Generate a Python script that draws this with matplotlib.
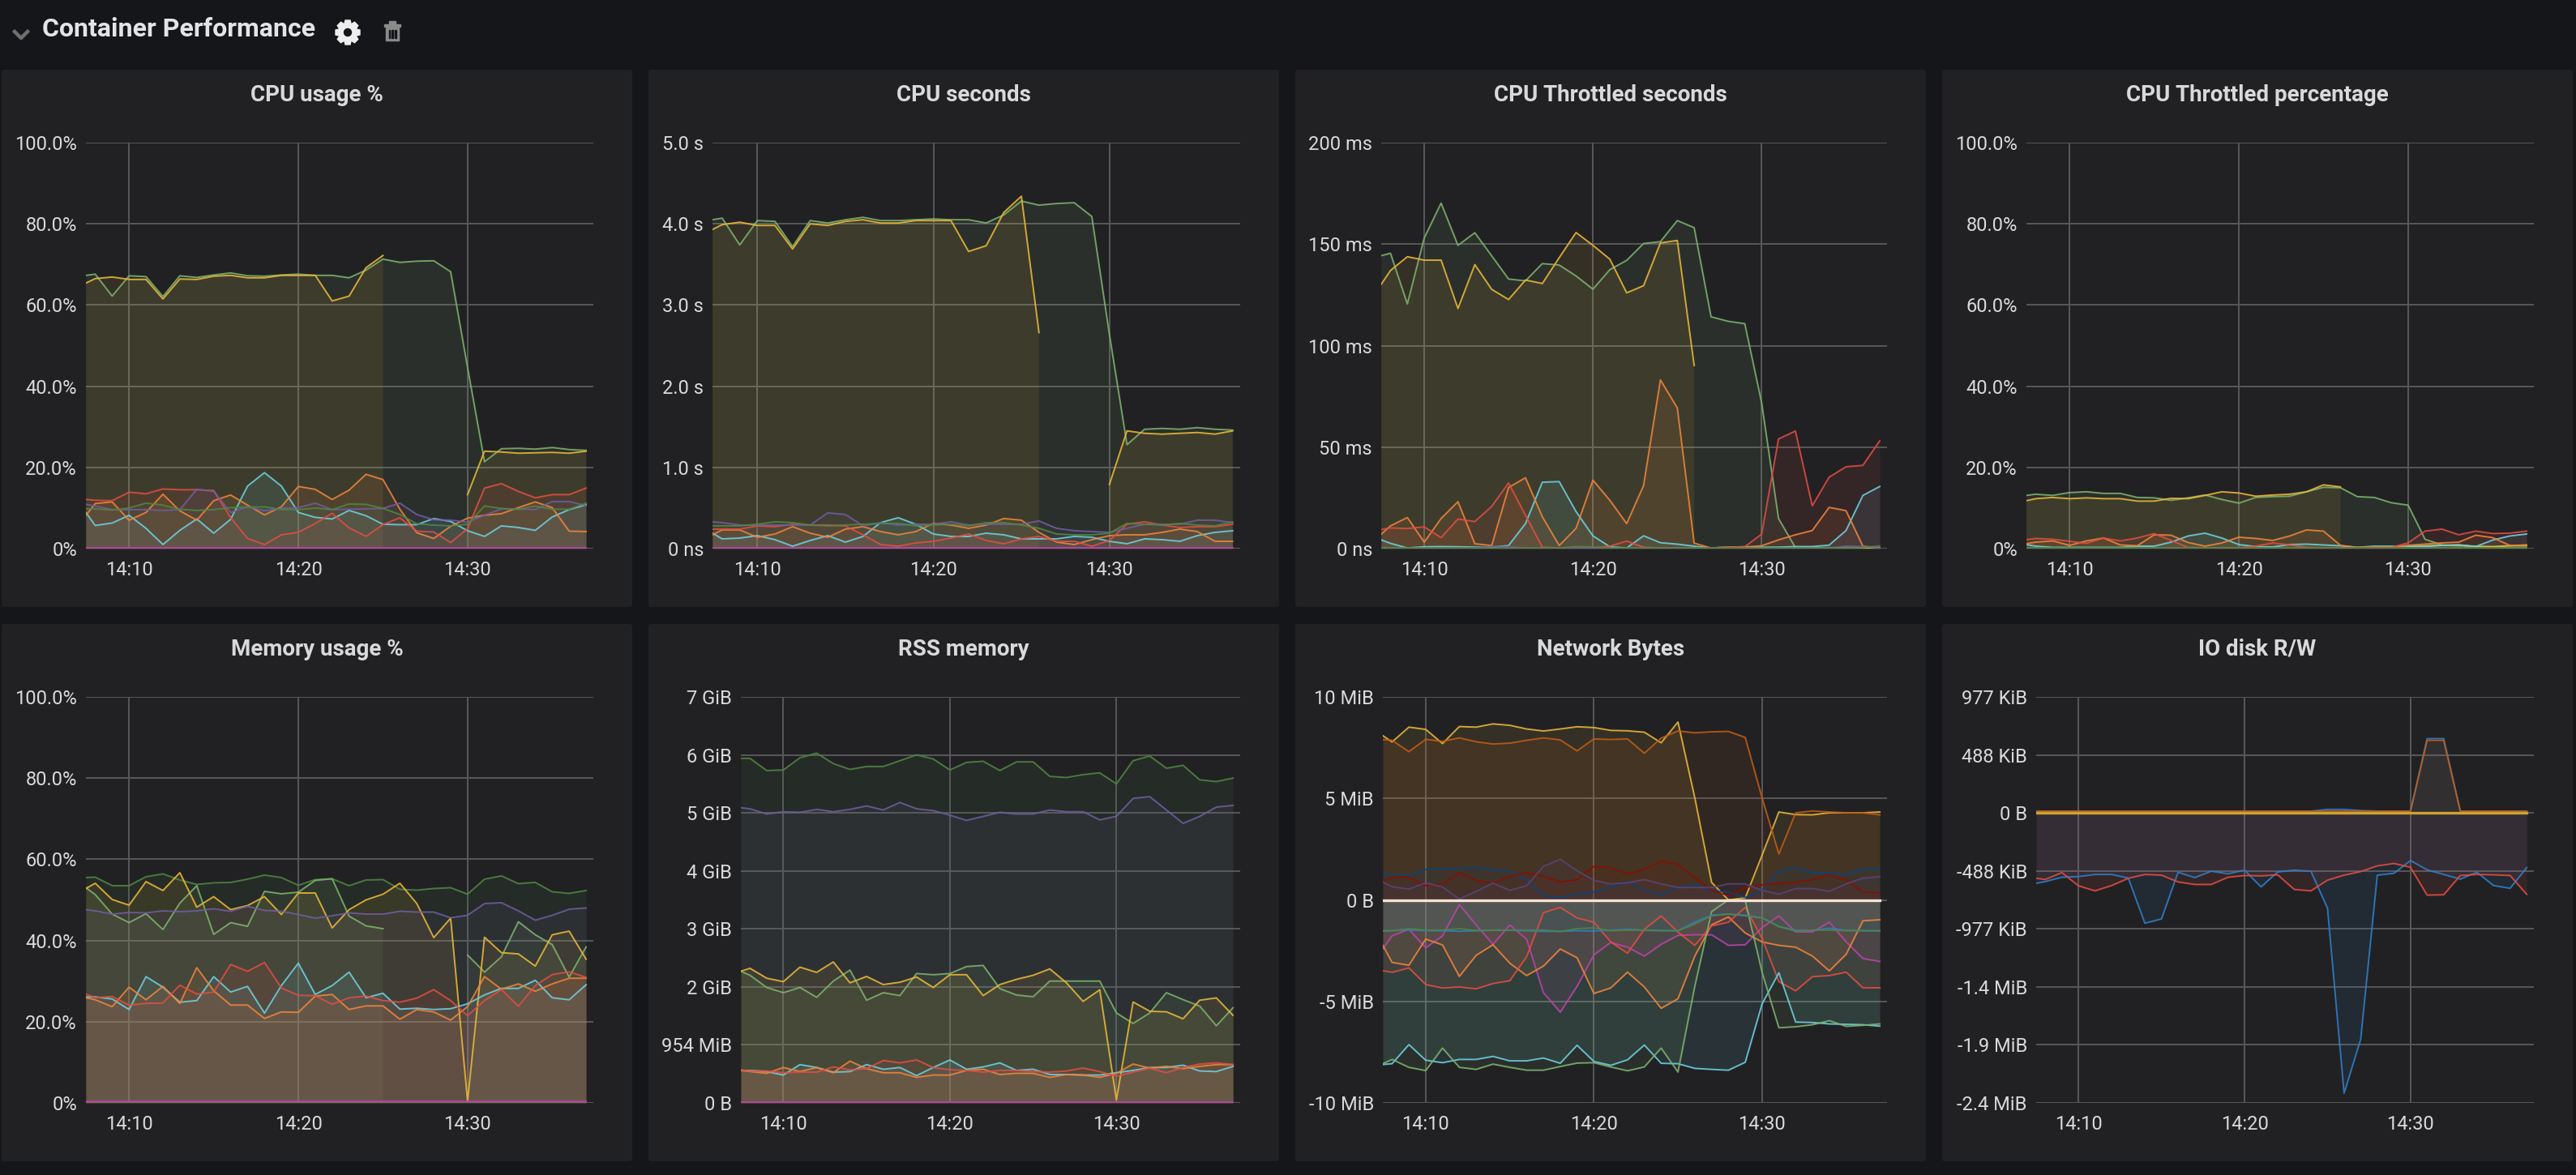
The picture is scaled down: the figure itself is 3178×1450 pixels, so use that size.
#!/usr/bin/env python3
"""
Container performance dashboard, eight dark panels of per-container lines.
"""
import matplotlib
matplotlib.use("Agg")
import matplotlib.pyplot as plt
from matplotlib.patches import Circle, FancyBboxPatch, Polygon, Rectangle
import numpy as np

plt.rcParams["font.family"] = ["Roboto", "DejaVu Sans"]

nan = float("nan")

# minutes after 14:00, the first sample is cut by the left edge of the window
MINUTES = [7.45, 8, 9, 10, 11, 12, 13, 14, 15, 16, 17, 18, 19, 20, 21, 22, 23, 24, 25, 26, 27,
           28, 29, 30, 31, 32, 33, 34, 35, 36, 37]
TIME_TICKS = [10, 20, 30]
TIME_LABELS = ["14:10", "14:20", "14:30"]

GREEN = "#7EB26D"
YELLOW = "#EAB839"
CYAN = "#6ED0E0"
ORANGE = "#EF843C"
RED = "#E24D42"
BLUE = "#2F7FC8"
MAGENTA = "#BA43A9"
VIOLET = "#705DA0"
DARK_GREEN = "#508642"
DARK_YELLOW = "#CCA32F"
DARK_ORANGE = "#C15C17"
DARK_RED = "#890F02"
DARK_BLUE = "#0A437C"
DARK_VIOLET = "#584477"
CREAM = "#F9E2D2"

# CPU usage %
usage_green = [67.3, 67.6, 62.2, 67.2, 67.0, 62.1, 67.2, 66.8, 67.4, 67.9, 67.2, 67.1, 67.4, 67.6, 67.3, 67.3,
               66.7, 68.6, 71.3, 70.5, 70.8, 70.9, 68.2, 44.6, 21.4, 24.6, 24.7, 24.5, 24.9, 24.4, 24.2]
usage_yellow = [65.4, 66.5, 66.9, 66.3, 66.3, 61.5, 66.4, 66.3, 67.1, 67.3, 66.7, 66.7, 67.3, 67.3, 67.3, 61.0,
                62.2, 69.2, 72.2, nan, nan, nan, nan, 13.3, 24.0, 23.8, 23.5, 23.6, 23.7, 23.5, 24.0]
usage_cyan = [8.9, 5.7, 6.3, 8.2, 5.0, 1.0, 4.5, 7.3, 3.8, 7.2, 15.4, 18.7, 15.4, 8.9, 7.7, 7.3,
              9.4, 8.1, 6.0, 5.9, 5.9, 7.4, 6.7, 4.4, 3.0, 5.6, 5.2, 4.5, 7.8, 9.6, 10.8]
usage_orange = [8.2, 11.1, 11.5, 7.0, 8.9, 13.4, 9.3, 7.0, 11.8, 13.2, 10.7, 8.3, 10.3, 15.3, 14.6, 12.1,
                14.4, 18.3, 17.0, 9.7, 3.9, 2.5, 5.5, 7.5, 8.2, 8.6, 10.1, 11.5, 10.1, 4.3, 4.2]
usage_red = [12.1, 11.9, 11.8, 13.9, 13.5, 14.7, 14.5, 14.5, 14.3, 7.6, 2.5, 1.0, 3.4, 4.0, 6.2, 8.7,
             5.1, 3.0, 5.9, 7.6, 4.3, 4.1, 1.5, 4.9, 14.9, 16.0, 14.1, 12.5, 13.3, 13.3, 14.9]
usage_violet = [10.9, 10.5, 9.6, 9.6, 9.6, 9.4, 9.6, 14.6, 14.1, 8.9, 10.3, 9.3, 9.9, 10.1, 11.2, 9.6,
                9.7, 9.8, 9.9, 11.2, 8.4, 7.1, 7.0, 6.5, 8.2, 9.8, 9.7, 9.6, 11.6, 11.6, 10.6]
usage_dark_green = [9.8, 9.8, 9.5, 10.0, 11.2, 10.7, 9.7, 9.4, 9.6, 10.1, 10.2, 10.3, 9.6, 9.6, 10.0, 9.6,
                    11.0, 10.9, 9.9, 8.4, 6.1, 5.8, 5.6, 6.0, 10.5, 9.9, 9.7, 10.5, 9.7, 9.7, 11.2]
usage_magenta = [0.2, 0.2, 0.2, 0.2, 0.2, 0.2, 0.2, 0.2, 0.2, 0.2, 0.2, 0.2, 0.2, 0.2, 0.2, 0.2,
                 0.2, 0.2, 0.2, 0.2, 0.2, 0.2, 0.2, 0.2, 0.2, 0.2, 0.2, 0.2, 0.2, 0.2, 0.2]

# CPU seconds
seconds_green = [4.05, 4.07, 3.74, 4.04, 4.03, 3.72, 4.04, 4.01, 4.05, 4.08, 4.04, 4.04, 4.05, 4.06, 4.05, 4.05,
                 4.01, 4.11, 4.28, 4.23, 4.25, 4.26, 4.09, 2.64, 1.28, 1.47, 1.48, 1.47, 1.49, 1.47, 1.46]
seconds_yellow = [3.93, 3.99, 4.02, 3.98, 3.98, 3.69, 4.00, 3.98, 4.03, 4.05, 4.01, 4.01, 4.04, 4.04, 4.04, 3.66,
                  3.73, 4.14, 4.34, 2.66, nan, nan, nan, 0.79, 1.45, 1.42, 1.41, 1.42, 1.43, 1.41, 1.45]
seconds_cyan = [.19, .12, .13, .16, .11, .03, .10, .16, .08, .15, .32, .38, .30, .18, .15, .15,
                .19, .17, .12, .12, .12, .15, .14, .09, .06, .12, .11, .09, .16, .20, .22]
seconds_orange = [.17, .23, .23, .14, .18, .27, .19, .14, .24, .27, .21, .17, .21, .31, .29, .25,
                  .29, .37, .35, .20, .08, .05, .11, .16, .17, .17, .20, .24, .21, .09, .09]
seconds_red = [.24, .24, .24, .28, .27, .30, .29, .29, .28, .17, .05, .03, .07, .09, .13, .18,
               .10, .06, .12, .15, .09, .09, .03, .10, .30, .33, .29, .26, .27, .27, .30]
seconds_violet = [.33, .32, .29, .29, .29, .29, .29, .44, .42, .28, .32, .29, .30, .30, .33, .29,
                  .30, .30, .30, .34, .25, .22, .21, .20, .25, .30, .30, .30, .35, .35, .32]
seconds_dark_green = [.28, .28, .28, .30, .33, .32, .29, .28, .29, .30, .31, .31, .28, .29, .30, .28,
                      .32, .32, .29, .25, .18, .17, .17, .19, .31, .30, .29, .31, .29, .28, .33]
seconds_magenta = [.01, .01, .01, .01, .01, .01, .01, .01, .01, .01, .01, .01, .01, .01, .01, .01,
                   .01, .01, .01, .01, .01, .01, .01, .01, .01, .01, .01, .01, .01, .01, .01]

# CPU Throttled seconds, in ms
throttled_green = [144.3, 145.5, 120.5, 153, 170.2, 149.4, 155.6, 144.2, 132.8, 131.9, 140.4, 139.7, 134.3, 127.8,
                   137.4, 142, 150.3, 151.2, 161.6, 158.1, 114.2, 112, 110.8, 71.8, 14.8, 0.5, 0.5, 0.5, 0.3, 0.2, 0.2]
throttled_yellow = [130.2, 137, 143.8, 142.1, 142.1, 118.3, 139.9, 127.7, 122.7, 132.3, 130.6, 143.3, 155.7, 149.4,
                    142.6, 126, 129.5, 150.6, 151.8, 90.2, nan, nan, nan, 0.1, 0.1, 0.1, 0.1, 0.1, 0.1, 0.1, 0.1]
throttled_cyan = [4.3, 2.6, 0.3, 0.9, 1, 0.9, 0.7, 0.7, 1.5, 12.3, 32.7, 33, 18.2, 6.3, 0.9, 0.3,
                  6.3, 2.9, 2.2, 1.2, 0.3, 0.7, 0.9, 0.7, 0.7, 1, 1, 1.7, 8.9, 26.2, 30.6]
throttled_orange = [7.1, 11.2, 15.3, 3.2, 14.8, 23.1, 2.4, 1.5, 30.1, 34.9, 15.7, 1.5, 10, 33.7, 23.8, 12.3,
                    31, 83.1, 69.3, 2.7, 0.3, 0.7, 0.7, 1.4, 4.3, 6.8, 8.9, 20.3, 18.7, 1.2, 0.3]
throttled_red = [9.4, 10.2, 9.9, 10.7, 5.4, 14.6, 13.3, 20.8, 32.3, 16.5, 0.7, 0.3, 0.3, 0.3, 1.2, 3.7,
                 0.7, 0.3, 0.3, 0.3, 0.3, 0.7, 0.9, 7.1, 54, 57.9, 21.1, 35.2, 40.3, 41, 53.1]
throttled_violet = [0.2, 0.2, 0.2, 0.2, 0.2, 0.3, 0.4, 1.0, 1.0, 0.2, 0.2, 0.2, 0.2, 0.2, 0.2, 0.2,
                    0.2, 0.2, 0.2, 0.2, 0.2, 0.2, 0.2, 0.2, 0.2, 0.2, 0.2, 0.3, 1.2, 1.0, 0.2]
throttled_dark_green = [0.5, 0.4, 0.3, 0.3, 0.3, 0.3, 0.3, 0.3, 0.3, 0.3, 0.3, 0.3, 1.0, 0.8, 0.3, 0.3,
                        0.3, 0.3, 0.3, 0.3, 0.3, 0.3, 0.3, 0.3, 0.3, 0.3, 0.3, 0.3, 0.3, 0.5, 1.3]

# CPU Throttled percentage
percent_green = [13.1, 13.4, 13.1, 13.8, 14, 13.6, 13.6, 12.6, 12.5, 11.9, 12.5, 13.2, 12.1, 11.2, 12.6, 12.8,
                 12.9, 14, 15.1, 15, 12.8, 12.6, 11.3, 10.7, 2.3, 0.9, 0.7, 0.6, 0.4, 0.3, 0.3]
percent_yellow = [11.8, 12.3, 12.6, 12.3, 12.5, 12.3, 12.3, 11.7, 11.7, 12.4, 12.3, 13.1, 14, 13.7, 12.9, 13.2,
                  13.4, 14, 15.7, 15.2, nan, nan, nan, 0.6, 0.7, 0.8, 0.9, 0.5, 0.5, 0.7, 0.9]
percent_cyan = [1, 0.6, 0.3, 0.3, 0.3, 0.3, 0.3, 0.6, 0.6, 1.6, 3.1, 3.8, 2.6, 1, 0.5, 0.4,
                1, 1.1, 0.9, 0.7, 0.3, 0.6, 0.6, 0.6, 0.5, 0.8, 0.9, 0.5, 2.1, 3.1, 3.6]
percent_orange = [1.2, 1.6, 1.9, 0.8, 1.9, 2.6, 0.9, 0.7, 3.4, 3.3, 1.5, 0.6, 1.4, 2.8, 2.5, 2,
                  3.1, 4.6, 4.3, 0.8, 0.3, 0.4, 0.4, 0.8, 1.1, 1.4, 1.6, 3.3, 2.7, 0.8, 0.7]
percent_red = [2.2, 2.5, 2.3, 1.8, 1.3, 2.6, 1.9, 2.6, 3.7, 2, 0.3, 0.2, 0.2, 0.2, 0.6, 1.4,
               0.9, 0.3, 0.2, 0.2, 0.2, 0.3, 0.3, 1.4, 4.3, 4.8, 3.4, 4.3, 3.7, 3.8, 4.3]
percent_dark_green = [0.2, 0.2, 0.2, 0.2, 0.2, 0.2, 0.2, 0.2, 0.2, 0.2, 0.2, 0.2, 0.2, 0.2, 0.2, 0.2,
                      0.2, 0.2, 0.2, 0.2, 0.2, 0.2, 0.2, 0.2, 0.2, 0.2, 0.2, 0.2, 0.2, 0.2, 0.2]

# Memory usage %
memory_dark_green = [55.5, 55.6, 53.5, 53.5, 55.7, 56.4, 54.9, 53.8, 54.2, 54.3, 55.1, 56.1, 55.5, 53.6, 55, 55.2,
                     53.5, 54.9, 55, 52.6, 52.4, 52.8, 53, 51.4, 55.1, 55.9, 54, 54.3, 52, 51.6, 52.3]
memory_green = [53, 51.3, 46.5, 44.4, 46.6, 42.7, 49.2, 53.5, 41.5, 44.4, 43.5, 52.1, 51.5, 51.9, 54.8, 55.2,
                46, 43.6, 42.9, nan, nan, nan, nan, 36.4, 32.2, 36, 44.6, 41.4, 39, 31, 38.4]
memory_yellow = [52.8, 54.1, 50.1, 48.7, 54.5, 52.3, 56.7, 48.2, 50.8, 47.6, 48.6, 50.8, 46.4, 51.7, 51.7, 43.1,
                 47.6, 50, 51.4, 54.1, 49.1, 40.7, 45.5, 0.4, 40.8, 37, 36.7, 33.7, 41.4, 42.3, 35.4]
memory_violet = [47.6, 47.3, 46.5, 46.9, 46.8, 47.3, 47.1, 47.3, 47.8, 47.2, 48.4, 47.4, 47.2, 46.4, 45.5, 46.1,
                 46.8, 46.5, 46.5, 47.2, 47, 47, 45.6, 46.2, 49.1, 49.3, 47.3, 45, 46.2, 47.7, 48]
memory_cyan = [26.1, 26.1, 25.6, 23, 31.1, 28.5, 24.8, 25.2, 31.1, 27.3, 28.7, 22.1, 28.9, 34.4, 26.7, 28.9,
               32.2, 25.9, 27, 23.1, 23.3, 23, 23.2, 24.4, 26.6, 28.2, 28.2, 30.2, 25.9, 25.4, 29.1]
memory_orange = [25.9, 25.4, 23.7, 28.5, 25.4, 28.7, 24.5, 33.3, 27.6, 24.1, 24.1, 20.8, 22.4, 22.3, 26.3, 26.7,
                 23, 23.9, 23.9, 20.6, 23, 22.4, 20.4, 23.7, 31.1, 28, 29.3, 27.5, 29.3, 30.7, 30.7]
memory_red = [26.8, 25.9, 26.2, 24.1, 24.5, 24.6, 29, 26.8, 27.3, 34.1, 32.4, 34.6, 28.3, 26.5, 26.4, 24.3,
              25.9, 26.3, 25.2, 24.8, 25.8, 27.9, 25.2, 21.5, 25.2, 27.9, 23.8, 28.9, 31.6, 32.3, 30.9]
memory_magenta = [0.3, 0.3, 0.3, 0.3, 0.3, 0.3, 0.3, 0.3, 0.3, 0.3, 0.3, 0.3, 0.3, 0.3, 0.3, 0.3,
                  0.3, 0.3, 0.3, 0.3, 0.3, 0.3, 0.3, 0.3, 0.3, 0.3, 0.3, 0.3, 0.3, 0.3, 0.3]

# RSS memory, in 1e9 bytes
rss_dark_green = [5.94, 5.94, 5.73, 5.74, 5.95, 6.03, 5.85, 5.75, 5.8, 5.8, 5.9, 6, 5.93, 5.74, 5.87, 5.89,
                  5.73, 5.88, 5.88, 5.63, 5.61, 5.66, 5.69, 5.5, 5.9, 5.98, 5.77, 5.82, 5.57, 5.54, 5.6]
rss_violet = [5.09, 5.07, 4.98, 5.02, 5.01, 5.06, 5.02, 5.06, 5.12, 5.05, 5.18, 5.07, 5.04, 4.96, 4.87, 4.94,
              5.01, 4.98, 4.98, 5.05, 5.02, 5.02, 4.88, 4.94, 5.25, 5.28, 5.05, 4.82, 4.94, 5.1, 5.13]
rss_green = [2.27, 2.2, 1.99, 1.9, 1.99, 1.82, 2.1, 2.29, 1.77, 1.9, 1.85, 2.23, 2.21, 2.23, 2.35, 2.37,
             1.97, 1.86, 1.83, 2.1, 2.1, 2.1, 2.1, 1.55, 1.37, 1.55, 1.9, 1.78, 1.67, 1.33, 1.64]
rss_yellow = [2.27, 2.32, 2.15, 2.09, 2.34, 2.25, 2.43, 2.07, 2.18, 2.04, 2.08, 2.17, 1.99, 2.21, 2.21, 1.85,
              2.04, 2.13, 2.2, 2.31, 2.07, 1.75, 1.95, 0.05, 1.74, 1.58, 1.57, 1.45, 1.77, 1.81, 1.51]
rss_cyan = [.56, .56, .54, .48, .66, .61, .53, .54, .66, .58, .61, .47, .61, .74, .58, .62,
            .69, .56, .58, .49, .49, .48, .48, .52, .56, .61, .61, .65, .55, .54, .63]
rss_orange = [.56, .54, .51, .61, .54, .61, .52, .72, .59, .52, .52, .44, .48, .48, .56, .58,
              .49, .51, .51, .44, .49, .48, .44, .51, .67, .6, .63, .59, .63, .66, .66]
rss_red = [.57, .55, .55, .52, .53, .53, .62, .57, .59, .73, .69, .74, .61, .57, .56, .53,
           .56, .56, .54, .53, .55, .6, .54, .46, .53, .6, .52, .61, .67, .69, .66]
rss_magenta = [.02, .02, .02, .02, .02, .02, .02, .02, .02, .02, .02, .02, .02, .02, .02, .02,
               .02, .02, .02, .02, .02, .02, .02, .02, .02, .02, .02, .02, .02, .02, .02]

# Network Bytes, in MiB
net_yellow = [8.09, 7.78, 8.51, 8.4, 7.7, 8.54, 8.51, 8.67, 8.6, 8.42, 8.32, 8.42, 8.53, 8.49, 8.35, 8.33,
              8.26, 7.74, 8.76, 5.03, 0.86, 0, 0.1, 2.2, 4.33, 4.2, 4.19, 4.29, 4.29, 4.29, 4.33]
net_dark_orange = [7.9, 7.86, 7.3, 7.91, 7.81, 7.98, 7.79, 7.68, 7.72, 7.86, 7.98, 7.88, 7.34, 7.93, 7.9, 7.93,
                   7.22, 7.97, 8.32, 8.23, 8.28, 8.3, 8, 5.03, 2.26, 4.29, 4.38, 4.33, 4.29, 4.29, 4.19]
net_dark_blue = [1.26, 1.26, 1.19, 1.51, 1.54, 1.54, 1.59, 1.49, 1.42, 1, 0.21, 0.11, 0.3, 0.39, 0.65, 0.91,
                 0.51, 0.26, 0.61, 0.79, 0.46, 0.39, 0.12, 0.47, 1.42, 1.59, 1.35, 1.33, 1.26, 1.52, 1.52]
net_dark_red = [.91, 1.12, 1.12, .7, .79, 1.35, .96, .82, 1.17, 1.35, 1.17, .88, 1, 1.65, 1.58, 1.28,
                1.52, 1.91, 1.75, 1.09, .47, .21, .61, .74, .82, .86, 1, 1.23, 1, .39, .35]
net_dark_violet = [.88, .65, .53, .84, .63, .04, .42, .82, .47, .7, 1.65, 2, 1.44, .96, .79, .84,
                   1, .79, .61, .61, .61, .79, .79, .47, .28, .56, .56, .42, .79, 1.07, 1.14]
net_magenta = [-2.42, -1.77, -1.45, -2.36, -1.77, -.23, -1.24, -2.19, -1.24, -1.94, -4.57, -5.53, -4.26, -2.71,
               -2.1, -2.33, -2.77, -2.19, -1.75, -1.72, -1.72, -2.24, -2.21, -1.37, -.79, -1.58, -1.58, -1.1,
               -2.07, -2.89, -3.03]
net_orange = [-2.24, -3.08, -3.22, -1.93, -2.22, -3.77, -2.73, -2.21, -3.12, -3.73, -3.26, -2.42, -2.85, -4.61,
              -4.34, -3.56, -4.29, -5.34, -4.87, -2.77, -1.23, -.84, -1.63, -2.07, -2.24, -2.33, -2.77, -3.5,
              -2.68, -1.03, -.98]
net_red = [-3.49, -3.57, -3.35, -4.17, -4.34, -4.29, -4.38, -4.12, -3.98, -2.8, -.63, -.37, -.89, -1.1,
           -2.07, -2.63, -1.45, -.79, -1.59, -2.24, -1.28, -1.1, -.37, -1.89, -4.03, -4.48, -3.78, -3.73,
           -3.56, -4.33, -4.33]
net_cyan = [-8.11, -8.07, -7.13, -7.9, -8.02, -7.86, -7.86, -7.71, -7.93, -7.93, -7.79, -8.05, -7.16, -7.96,
            -8.15, -7.88, -7.15, -8.05, -8.07, -8.3, -8.35, -8.39, -8, -5.13, -3.59, -6.02, -6.04, -6.11,
            -6.13, -6.15, -6.22]
net_green = [-8.07, -7.86, -8.25, -8.41, -7.3, -8.25, -8.35, -8.09, -8.25, -8.39, -8.39, -8.21, -8.04, -8.02,
             -8.23, -8.42, -8.23, -7.3, -8.48, -4.26, -.58, 0, -.05, -3.56, -6.3, -6.25, -6.15, -5.95,
             -6.23, -6.18, -6.11]
net_blue = [-1.53, -1.52, -1.48, -1.52, -1.52, -1.55, -1.52, -1.5, -1.5, -1.52, -1.55, -1.55, -1.52, -1.53,
            -1.5, -1.45, -1.5, -1.52, -1.52, -1.1, -.75, -.7, -.75, -.89, -1.31, -1.5, -1.5, -1.4,
            -1.5, -1.52, -1.53]
net_dark_green = [-1.52, -1.52, -1.42, -1.49, -1.49, -1.42, -1.51, -1.49, -1.49, -1.49, -1.49, -1.56, -1.42, -1.38,
                  -1.52, -1.49, -1.49, -1.51, -1.52, -1.19, -.79, -.7, -.79, -.89, -1.31, -1.54, -1.49, -1.49,
                  -1.52, -1.52, -1.52]
net_zero = [0, 0, 0, 0, 0, 0, 0, 0, 0, 0, 0, 0, 0, 0, 0, 0,
            0, 0, 0, 0, 0, 0, 0, 0, 0, 0, 0, 0, 0, 0, 0]

# IO disk R/W, in 1e6 bytes
io_blue_read = [-.607, -.592, -.555, -.549, -.531, -.531, -.562, -.951, -.914, -.512, -.558, -.503, -.525, -.494,
                -.638, -.509, -.494, -.503, -.822, -2.417, -1.951, -.537, -.521, -.411, -.491, -.531, -.571, -.512,
                -.626, -.65, -.472]
io_red_read = [-.564, -.574, -.515, -.629, -.672, -.626, -.564, -.531, -.537, -.595, -.617, -.617, -.555, -.54,
               -.543, -.534, -.66, -.672, -.58, -.537, -.506, -.457, -.436, -.469, -.709, -.706, -.54, -.531,
               -.534, -.54, -.702]
io_blue_write = [.015, .015, .015, .015, .015, .015, .015, .015, .015, .015, .015, .015, .015, .015, .015, .015,
                 .015, .015, .03, .03, .02, .015, .015, .015, .64, .64, .015, .015, .015, .015, .015]
io_orange_write = [.015, .015, .015, .015, .015, .015, .015, .015, .015, .015, .015, .015, .015, .015, .015, .015,
                   .015, .015, .015, .015, .015, .015, .015, .015, .625, .625, .015, .015, .015, .015, .015]
io_zero = [0, 0, 0, 0, 0, 0, 0, 0, 0, 0, 0, 0, 0, 0, 0, 0,
           0, 0, 0, 0, 0, 0, 0, 0, 0, 0, 0, 0, 0, 0, 0]

percent_ticks = [0, 20, 40, 60, 80, 100]
percent_labels = ["0%", "20.0%", "40.0%", "60.0%", "80.0%", "100.0%"]

TOP = (176, 677)
BOTTOM = (860, 1361)
ROW_TOP = (86, 749)
ROW_BOTTOM = (770, 1433)
LINE = 1.4
LINE_ALPHA = 0.88
FILL = 0.1

panels = [
    dict(title="CPU usage %", card=(2, 780), row=ROW_TOP, box=(106, 732), span=TOP, lim=(0, 100),
         ticks=percent_ticks, labels=percent_labels,
         series=[(usage_green, GREEN), (usage_yellow, YELLOW), (usage_cyan, CYAN), (usage_orange, ORANGE),
                 (usage_red, RED), (usage_violet, VIOLET), (usage_dark_green, DARK_GREEN),
                 (usage_magenta, MAGENTA)]),
    dict(title="CPU seconds", card=(800, 1578), row=ROW_TOP, box=(879, 1530), span=TOP, lim=(0, 5),
         ticks=[0, 1, 2, 3, 4, 5], labels=["0 ns", "1.0 s", "2.0 s", "3.0 s", "4.0 s", "5.0 s"],
         series=[(seconds_green, GREEN), (seconds_yellow, YELLOW), (seconds_cyan, CYAN), (seconds_orange, ORANGE),
                 (seconds_red, RED), (seconds_violet, VIOLET), (seconds_dark_green, DARK_GREEN),
                 (seconds_magenta, MAGENTA)]),
    dict(title="CPU Throttled seconds", card=(1598, 2376), row=ROW_TOP, box=(1704, 2328), span=TOP, lim=(0, 200),
         ticks=[0, 50, 100, 150, 200], labels=["0 ns", "50 ms", "100 ms", "150 ms", "200 ms"],
         series=[(throttled_green, GREEN), (throttled_yellow, YELLOW), (throttled_cyan, CYAN),
                 (throttled_orange, ORANGE), (throttled_red, RED), (throttled_violet, VIOLET),
                 (throttled_dark_green, DARK_GREEN)]),
    dict(title="CPU Throttled percentage", card=(2396, 3174), row=ROW_TOP, box=(2500, 3126), span=TOP, lim=(0, 100),
         ticks=percent_ticks, labels=percent_labels,
         series=[(percent_green, GREEN), (percent_yellow, YELLOW), (percent_cyan, CYAN), (percent_orange, ORANGE),
                 (percent_red, RED), (percent_dark_green, DARK_GREEN)]),
    dict(title="Memory usage %", card=(2, 780), row=ROW_BOTTOM, box=(106, 732), span=BOTTOM, lim=(0, 100),
         ticks=percent_ticks, labels=percent_labels,
         series=[(memory_dark_green, DARK_GREEN), (memory_green, GREEN), (memory_yellow, YELLOW),
                 (memory_violet, VIOLET), (memory_cyan, CYAN), (memory_orange, ORANGE), (memory_red, RED),
                 (memory_magenta, MAGENTA)]),
    dict(title="RSS memory", card=(800, 1578), row=ROW_BOTTOM, box=(914, 1530), span=BOTTOM, lim=(0, 7),
         ticks=[0, 1, 2, 3, 4, 5, 6, 7],
         labels=["0 B", "954 MiB", "2 GiB", "3 GiB", "4 GiB", "5 GiB", "6 GiB", "7 GiB"],
         series=[(rss_dark_green, DARK_GREEN), (rss_violet, VIOLET), (rss_green, GREEN), (rss_yellow, YELLOW),
                 (rss_cyan, CYAN), (rss_orange, ORANGE), (rss_red, RED), (rss_magenta, MAGENTA)]),
    dict(title="Network Bytes", card=(1598, 2376), row=ROW_BOTTOM, box=(1706, 2328), span=BOTTOM, lim=(-10, 10),
         ticks=[-10, -5, 0, 5, 10], labels=["-10 MiB", "-5 MiB", "0 B", "5 MiB", "10 MiB"],
         series=[(net_yellow, YELLOW), (net_dark_orange, DARK_ORANGE), (net_dark_blue, DARK_BLUE),
                 (net_dark_red, DARK_RED), (net_dark_violet, DARK_VIOLET), (net_magenta, MAGENTA),
                 (net_orange, ORANGE), (net_red, RED), (net_cyan, CYAN), (net_green, GREEN),
                 (net_blue, BLUE), (net_dark_green, DARK_GREEN)],
         thick=[(net_zero, CREAM)]),
    dict(title="IO disk R/W", card=(2396, 3174), row=ROW_BOTTOM, box=(2512, 3126), span=BOTTOM, lim=(-2.5, 1),
         ticks=[-2.5, -2, -1.5, -1, -0.5, 0, 0.5, 1],
         labels=["-2.4 MiB", "-1.9 MiB", "-1.4 MiB", "-977 KiB", "-488 KiB", "0 B", "488 KiB", "977 KiB"],
         series=[(io_blue_read, BLUE), (io_red_read, RED), (io_blue_write, BLUE), (io_orange_write, DARK_ORANGE)],
         thick=[(io_zero, DARK_YELLOW)]),
]

W, H = 3178, 1450
fig = plt.figure(figsize=(W / 100, H / 100), dpi=100, facecolor="#141619")

# page layer in pixel coordinates, y going down
page = fig.add_axes([0, 0, 1, 1])
page.set_xlim(0, W)
page.set_ylim(H, 0)
page.axis("off")

page.plot([18, 26, 34], [39, 47, 39], color="#6f6f6f", lw=3.2)
page.text(52, 36, "Container Performance", color="#e3e4e5", fontsize=23, fontweight="bold", va="center")

# gear icon, a disc with eight teeth and a hole
gear_x, gear_y = 429, 40
page.add_patch(Circle((gear_x, gear_y), 11, color="#eeeeee"))
for angle in np.radians([0, 45, 90, 135, 180, 225, 270, 315]):
    ux, uy = np.cos(angle), np.sin(angle)
    tooth = [(gear_x + 9 * ux - 4.5 * uy, gear_y + 9 * uy + 4.5 * ux),
             (gear_x + 15 * ux - 3 * uy, gear_y + 15 * uy + 3 * ux),
             (gear_x + 15 * ux + 3 * uy, gear_y + 15 * uy - 3 * ux),
             (gear_x + 9 * ux + 4.5 * uy, gear_y + 9 * uy - 4.5 * ux)]
    page.add_patch(Polygon(tooth, color="#eeeeee"))
page.add_patch(Circle((gear_x, gear_y), 4.5, color="#141619"))

# trash icon
page.add_patch(Rectangle((474, 30), 20, 3, color="#8a8a8a"))
page.add_patch(Rectangle((480, 26), 8, 4, color="#8a8a8a"))
page.add_patch(Rectangle((476, 34), 16, 16, color="#8a8a8a"))
for bar_x in (479.5, 483.2, 487):
    page.add_patch(Rectangle((bar_x, 37), 1.5, 10, color="#141619"))


def draw_panel(panel: dict) -> None:
    left, right = panel["card"]
    top, bottom = panel["row"]
    page.add_patch(FancyBboxPatch((left + 3, top + 3), right - left - 6, bottom - top - 6,
                                  boxstyle="round,pad=3", facecolor="#212124", edgecolor="none"))
    page.text((left + right) / 2, top + 31, panel["title"], color="#d8d9da", fontsize=20,
              fontweight="bold", ha="center", va="center")

    x0, x1 = panel["box"]
    y0, y1 = panel["span"]
    ax = fig.add_axes([x0 / W, 1 - y1 / H, (x1 - x0) / W, (y1 - y0) / H])
    ax.patch.set_alpha(0)
    for spine in ax.spines.values():
        spine.set_visible(False)

    for values, color in panel["series"]:
        ax.fill_between(MINUTES, values, 0, color=color, alpha=FILL, linewidth=0)
        ax.plot(MINUTES, values, color=color, lw=LINE, alpha=LINE_ALPHA)
    for values, color in panel.get("thick", []):
        ax.plot(MINUTES, values, color=color, lw=2.4)

    ax.set_xlim(7.45, 37.43)
    ax.set_ylim(*panel["lim"])
    ax.set_xticks(TIME_TICKS)
    ax.set_xticklabels(TIME_LABELS)
    ax.set_yticks(panel["ticks"])
    ax.set_yticklabels(panel["labels"])
    ax.tick_params(axis="both", length=0, labelcolor="#d8d9da", labelsize=17)
    ax.tick_params(axis="x", pad=11)
    ax.tick_params(axis="y", pad=8)
    ax.grid(True, color="#58585a", linewidth=1.4)
    ax.set_axisbelow(True)


for panel in panels:
    draw_panel(panel)

fig.savefig("out.png", dpi=100, facecolor=fig.get_facecolor())
